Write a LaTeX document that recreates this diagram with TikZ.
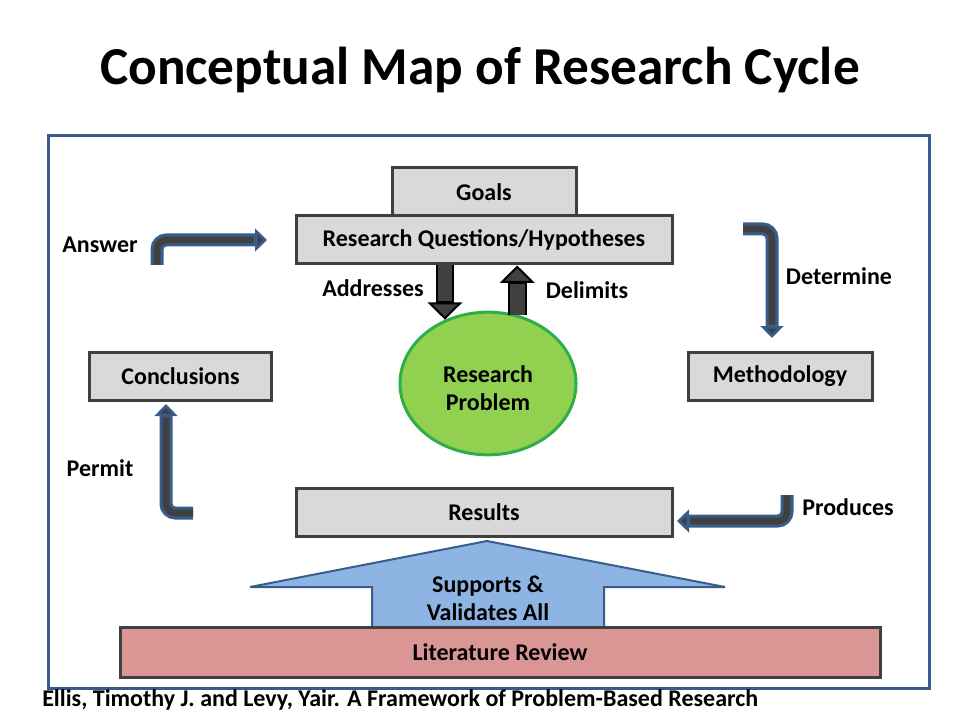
\documentclass[tikz,border=0pt]{standalone}
\usepackage{fontspec}
\setmainfont{Carlito}
\usetikzlibrary{arrows.meta,shapes.geometric}
\definecolor{frameblue}{HTML}{385D8A}
\definecolor{boxgray}{HTML}{D9D9D9}
\definecolor{edgegray}{HTML}{404040}
\definecolor{probgreen}{HTML}{92D050}
\definecolor{probedge}{HTML}{2EAE49}
\definecolor{supblue}{HTML}{8EB4E3}
\definecolor{litpink}{HTML}{D99694}
\newcommand{\bentarrow}[1]{\draw[bentout] #1; \draw[bentin] #1;}
\newcommand{\blockarrow}[1]{\draw[blockout] #1; \draw[blockin] #1;}

\begin{document}
\begin{tikzpicture}[x=0.75pt,y=-0.75pt,
  txt/.style={font=\bfseries\fontsize{18}{21}\selectfont,align=center},
  box/.style={txt,draw=edgegray,line width=2.25pt,fill=boxgray,minimum height=36pt,inner sep=0pt},
  bentout/.style={frameblue,line width=9.75pt,rounded corners=7pt,
    -{Triangle[length=9pt,width=17pt,fill=edgegray,line width=2pt]}},
  bentin/.style={edgegray,line width=5pt,rounded corners=7pt,shorten >=10pt},
  blockout/.style={black,line width=14pt,
    -{Triangle[length=13pt,width=26pt,fill=edgegray,line width=1.5pt]}},
  blockin/.style={edgegray,line width=11pt,shorten >=14pt}]
\useasboundingbox (0,0) rectangle (960,720);
\node[font=\bfseries\fontsize{40}{48}\selectfont] (title) at (480,70) {Conceptual Map of Research Cycle};
\draw[frameblue,line width=2.25pt] (48,136) rectangle (929,688);

\node[box,minimum width=138pt] (goals) at (484,192) {Goals};
\node[box,minimum width=282pt] (rq) at (484,240) {Research Questions/Hypotheses};
\node[box,minimum width=137pt] (concl) at (180.5,376) {Conclusions};
\node[box,minimum width=138pt] (meth) at (780,376) {Methodology};
\node[box,minimum width=282pt] (res) at (484,512) {Results};
\node[ellipse,draw=probedge,line width=2.25pt,fill=probgreen,
  minimum width=132pt,minimum height=107pt,inner sep=0pt,
  label={[txt,yshift=-3.5pt]center:Research\\Problem}] (rp) at (488,383.5) {};

% supporting arrow and literature review
\draw[frameblue,fill=supblue,line width=1.5pt] (487,541) -- (250,587) -- (372,587) -- (372,628)
  -- (604,628) -- (604,587) -- (725,587) -- cycle;
\node[txt] (sup) at (488,598) {Supports \&\\Validates All};
\node[box,fill=litpink,minimum width=570pt,minimum height=37pt] (lit) at (500,652.5) {Literature Review};

\blockarrow{(rp.124 |- rq.south) -- (rp.124)}
\blockarrow{(rp.67) -- (rp.67 |- rq.south)}
\node[txt] (addr) at (373,288) {Addresses};
\node[txt] (delim) at (587,290) {Delimits};

\coordinate (answerA) at (157,265);
\coordinate (answerB) at (267,240);
\coordinate (detA) at (743,229);
\coordinate (detB) at (772,338);
\coordinate (permA) at (193,513);
\coordinate (permB) at (166,404);
\coordinate (prodA) at (787,495);
\coordinate (prodB) at (677,521);
\bentarrow{(answerA) |- (answerB)}
\bentarrow{(detA) -| (detB)}
\bentarrow{(permA) -| (permB)}
\bentarrow{(prodA) |- (prodB)}
\node[txt] (answer) at (100,245) {Answer};
\node[txt] (determine) at (839,276) {Determine};
\node[txt] (permit) at (100,468) {Permit};
\node[txt] (produces) at (848,507) {Produces};

\node[font=\bfseries\fontsize{18}{21}\selectfont,anchor=west,inner sep=0pt] (cite) at (42,700)
  {Ellis, Timothy J. and Levy, Yair. A Framework of Problem-Based Research};
\end{tikzpicture}
\end{document}
